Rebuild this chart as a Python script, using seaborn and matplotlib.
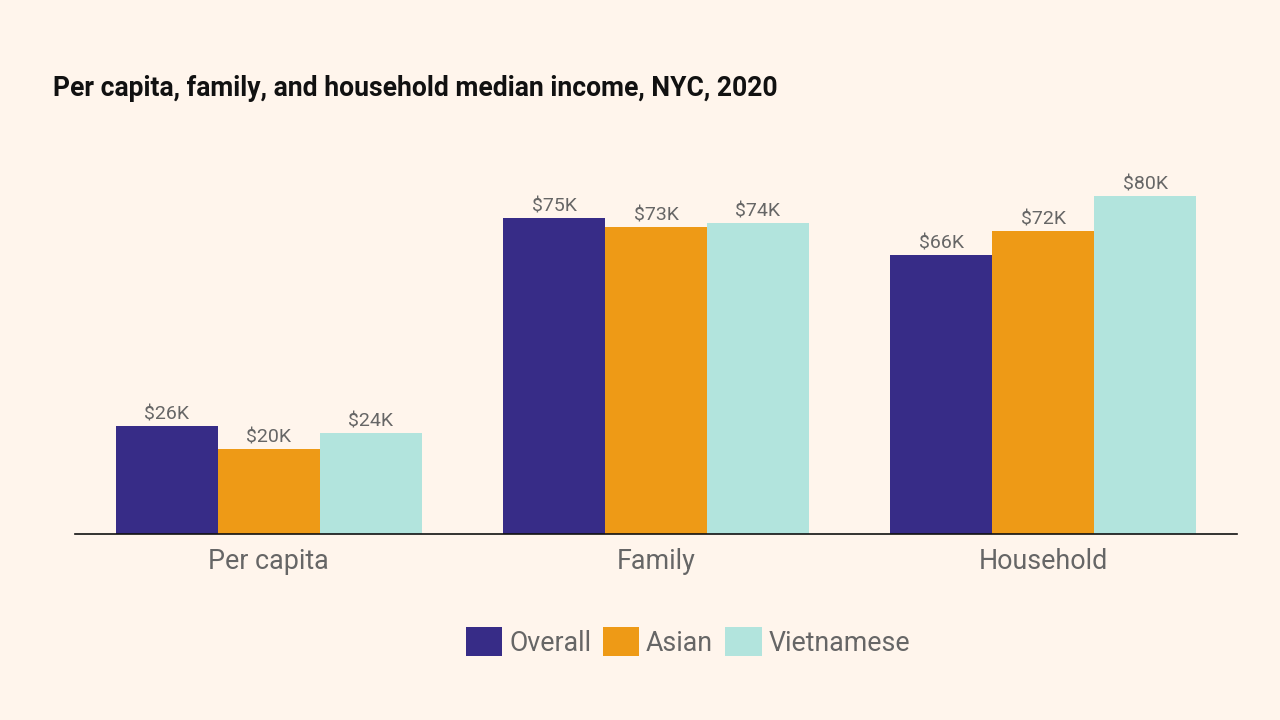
import matplotlib
matplotlib.use("Agg")
import matplotlib.pyplot as plt
import seaborn as sns
import pandas as pd
from matplotlib.patches import Patch

categories = ["Per capita", "Family", "Household"]
groups = ["Overall", "Asian", "Vietnamese"]
overall = [25.6, 74.8, 66.0]
asian = [20.1, 72.6, 71.6]
vietnamese = [23.8, 73.5, 80.0]
colors = ["#372C87", "#EE9A16", "#B2E4DD"]
bg = "#FFF5EC"

rows = []
for g, vals in zip(groups, [overall, asian, vietnamese]):
    for c, v in zip(categories, vals):
        rows.append({"category": c, "group": g, "value": v})
df = pd.DataFrame(rows)

sns.set_theme(style="white")
plt.rcParams["font.family"] = ["Roboto", "DejaVu Sans"]

fig = plt.figure(figsize=(12.8, 7.2), dpi=100, facecolor=bg)
ax = fig.add_axes([75/1280, 1 - 534/720, (1237-75)/1280, (534-150)/720])
ax.set_facecolor(bg)

sns.barplot(data=df, x="category", y="value", hue="group", order=categories,
            hue_order=groups, palette=colors, width=0.79, saturation=1,
            linewidth=0, edgecolor="none", ax=ax, legend=False)

ax.set_xlim(-0.5, 2.5)
ax.set_ylim(0, 80 * (534 - 150) / 338)

for cont in ax.containers:
    labels = [f"${round(b.get_height())}K" for b in cont]
    ax.bar_label(cont, labels=labels, padding=2, fontsize=14, color="#666666")

ax.set_xlabel("")
ax.set_ylabel("")
ax.set_yticks([])
ax.tick_params(axis="x", labelsize=19.4, labelcolor="#666666", length=0, pad=10)
for s in ["top", "right", "left"]:
    ax.spines[s].set_visible(False)
ax.spines["bottom"].set_color("#111111")
ax.spines["bottom"].set_linewidth(1.2)

fig.text(53/1280, 1 - 88/720, "Per capita, family, and household median income, NYC, 2020",
         fontsize=19.1, fontweight="bold", color="#111111", va="center", ha="left")

handles = [Patch(facecolor=c, edgecolor="none", label=g) for c, g in zip(colors, groups)]
leg = fig.legend(handles=handles, loc="center", bbox_to_anchor=(688/1280, 1 - 642/720),
                 ncol=3, frameon=False, fontsize=19.3, handlelength=1.35, handleheight=1.3,
                 handletextpad=0.25, columnspacing=0.45, labelcolor="#666666")

fig.savefig("out.png", dpi=100, facecolor=bg)
